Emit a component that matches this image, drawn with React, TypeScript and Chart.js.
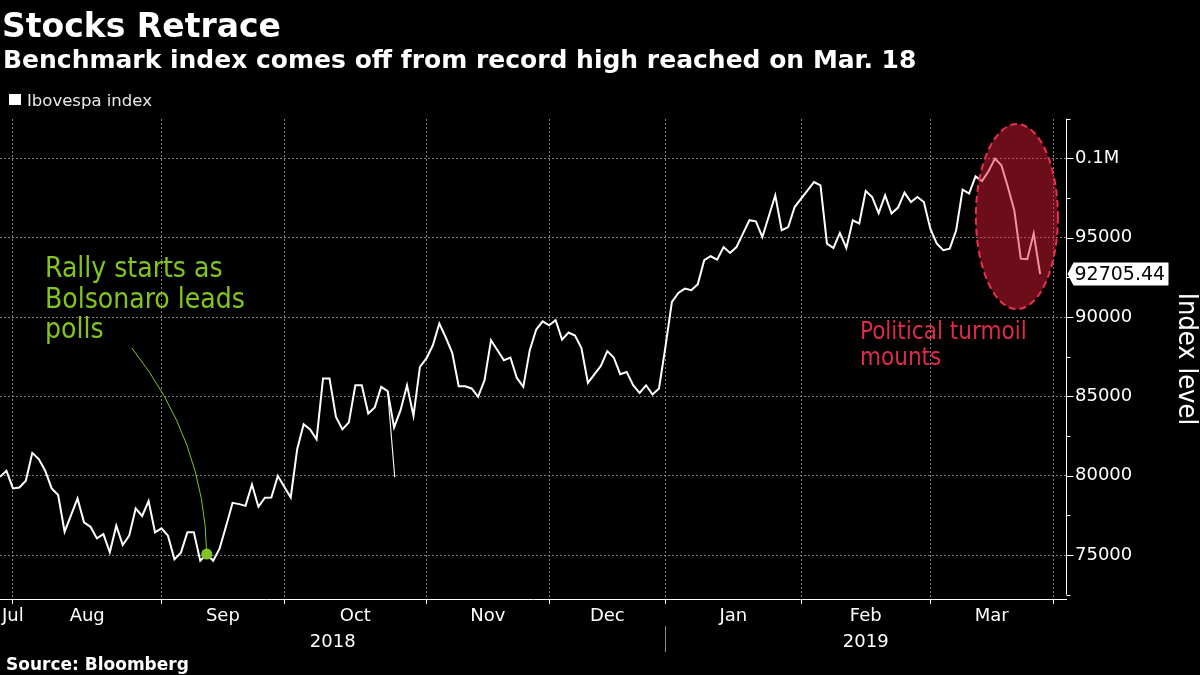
import React, { useEffect, useRef } from 'react';
import { Chart, registerables } from 'chart.js';

Chart.register(...registerables);

// ---- Data (one point per trading day, 30 Jul 2018 .. 27 Mar 2019) ----
const IBOVESPA: number[] = [
  79930, 80310, 79200, 79260, 79680, 81440, 81050, 80310, 79200, 78780,
  76470, 77520, 78570, 77060, 76780, 76050, 76320, 75170, 76850, 75630,
  76220, 77940, 77460, 78400, 76430, 76680, 76220, 74730, 75150, 76430,
  76430, 74640, 75060, 74640, 75420, 76830, 78290, 78210, 78100, 79450,
  78040, 78610, 78630, 79990, 79300, 78630, 81670, 83250, 82920, 82290,
  86130, 86130, 83710, 82920, 83360, 85700, 85700, 83920, 84300, 85600,
  85330, 83040, 84130, 85700, 83770, 86860, 87390, 88220, 89590, 88710,
  87740, 85640, 85640, 85500, 84970, 86020, 88540, 87910, 87280, 87450,
  86160, 85600, 87910, 89210, 89730, 89480, 89800, 88580, 89020, 88830,
  88050, 85850, 86380, 86920, 87850, 87450, 86400, 86540, 85700, 85220,
  85700, 85120, 85500, 88120, 90950, 91520, 91790, 91690, 92060, 93580,
  93830, 93620, 94410, 94040, 94410, 95260, 96100, 96030, 95040, 96350,
  97670, 95470, 95670, 96930, 97460, 97980, 98510, 98300, 94630, 94350,
  95300, 94350, 96100, 95890, 97940, 97560, 96550, 97670, 96520, 96900,
  97840, 97250, 97560, 97250, 95570, 94630, 94210, 94310, 95470, 98030,
  97780, 98860, 98570, 99180, 99980, 99560, 98190, 96720, 93680, 93640,
  95260, 92705.44,
];
// thin intraday spike visible in October
const SPIKE_FROM = 60;
const SPIKE_TO_X = 61.1;
const SPIKE_LOW = 79900;

const LAST_LABEL = '92705.44';
const DOT_INDEX = 32;

const MONTHS = ['Jul', 'Aug', 'Sep', 'Oct', 'Nov', 'Dec', 'Jan', 'Feb', 'Mar'];
const MONTH_BOUNDS = [0, 2, 25, 44, 66, 85, 103, 124, 144, 163];
const YEARS = ['2018', '2019'];
const YEAR_BOUNDS = [0, 103, 165];

const Y_TICKS = [72500, 75000, 77500, 80000, 82500, 85000, 87500, 90000, 92500, 95000, 97500, 100000, 102500];
const Y_TICK_LABELS = ['', '75000', '', '80000', '', '85000', '', '90000', '', '95000', '', '0.1M', ''];

const X_MIN = 0;
const X_MAX = 165;
const Y_MIN = 72230;
const Y_MAX = 102480;

// annotation anchors in data units
const HIGHLIGHT = { cx: 157.4, cy: 96330, rx: 6.35, ry: 5830 };
const CONNECTOR = { sx: 20.4, sy: 88045, qx: 31.7, qy: 82248 };

const GREEN = '#82c51e';
const RED = '#e02a4a';
const GRID = '#808080';
const FONT = '"DejaVu Sans", sans-serif';
const COND = '"DejaVu Sans Condensed", "DejaVu Sans", sans-serif';

const overlayPlugin = {
  id: 'overlay',
  afterDatasetsDraw(chart: any) {
    const { ctx } = chart;
    const xs = chart.scales.x;
    const ys = chart.scales.y;
    // highlighted ellipse
    const cx = xs.getPixelForValue(HIGHLIGHT.cx);
    const cy = ys.getPixelForValue(HIGHLIGHT.cy);
    const rx = xs.getPixelForValue(HIGHLIGHT.cx + HIGHLIGHT.rx) - cx;
    const ry = cy - ys.getPixelForValue(HIGHLIGHT.cy + HIGHLIGHT.ry);
    ctx.save();
    ctx.beginPath();
    ctx.ellipse(cx, cy, rx, ry, 0, 0, Math.PI * 2);
    ctx.fillStyle = 'rgba(225, 30, 55, 0.48)';
    ctx.fill();
    ctx.setLineDash([7, 4]);
    ctx.lineWidth = 2;
    ctx.strokeStyle = '#e8304c';
    ctx.stroke();
    ctx.restore();

    // green connector to the dot
    const ex = xs.getPixelForValue(DOT_INDEX);
    const ey = ys.getPixelForValue(IBOVESPA[DOT_INDEX]);
    ctx.save();
    ctx.beginPath();
    ctx.moveTo(xs.getPixelForValue(CONNECTOR.sx), ys.getPixelForValue(CONNECTOR.sy));
    ctx.quadraticCurveTo(xs.getPixelForValue(CONNECTOR.qx), ys.getPixelForValue(CONNECTOR.qy), ex, ey);
    ctx.strokeStyle = GREEN;
    ctx.lineWidth = 1;
    ctx.stroke();
    ctx.restore();
  },
  afterDraw(chart: any) {
    const { ctx, chartArea } = chart;
    const xs = chart.scales.x;
    const ys = chart.scales.y;
    const ax = Math.round(chartArea.right) + 0.5;
    ctx.save();
    // y axis line and ticks
    ctx.strokeStyle = '#ffffff';
    ctx.lineWidth = 1;
    ctx.beginPath();
    ctx.moveTo(ax, ys.getPixelForValue(Y_TICKS[Y_TICKS.length - 1]));
    ctx.lineTo(ax, ys.getPixelForValue(Y_TICKS[0]));
    Y_TICKS.forEach((v, i) => {
      const py = Math.round(ys.getPixelForValue(v)) + 0.5;
      ctx.moveTo(ax, py);
      ctx.lineTo(ax + (Y_TICK_LABELS[i] ? 7 : 4), py);
    });
    ctx.stroke();

    // last value box
    const last = IBOVESPA[IBOVESPA.length - 1];
    const vy = ys.getPixelForValue(last);
    ctx.beginPath();
    ctx.moveTo(ax + 1, vy);
    ctx.lineTo(ax + 7, vy - 11.5);
    ctx.lineTo(ax + 102, vy - 11.5);
    ctx.lineTo(ax + 102, vy + 11.5);
    ctx.lineTo(ax + 7, vy + 11.5);
    ctx.closePath();
    ctx.fillStyle = '#ffffff';
    ctx.fill();
    ctx.fillStyle = '#000000';
    ctx.font = '19px ' + FONT;
    ctx.textAlign = 'left';
    ctx.textBaseline = 'middle';
    ctx.fillText(LAST_LABEL, ax + 8, vy + 1);

    // month labels
    const bottom = chartArea.bottom;
    ctx.fillStyle = '#ffffff';
    ctx.font = '18px ' + FONT;
    ctx.textAlign = 'center';
    ctx.textBaseline = 'alphabetic';
    MONTHS.forEach((m, i) => {
      const a = xs.getPixelForValue(MONTH_BOUNDS[i]);
      const b = xs.getPixelForValue(MONTH_BOUNDS[i + 1]);
      const w = ctx.measureText(m).width;
      const c = Math.max((a + b) / 2, 2 + w / 2);
      ctx.fillText(m, c, bottom + 21.5);
    });
    YEARS.forEach((yr, i) => {
      const a = xs.getPixelForValue(YEAR_BOUNDS[i]);
      const b = xs.getPixelForValue(YEAR_BOUNDS[i + 1]);
      ctx.fillText(yr, (a + b) / 2, bottom + 47.5);
    });
    // year separator
    const sx = Math.round(xs.getPixelForValue(YEAR_BOUNDS[1])) + 0.5;
    ctx.strokeStyle = '#8a8a8a';
    ctx.beginPath();
    ctx.moveTo(sx, bottom + 27);
    ctx.lineTo(sx, bottom + 53);
    ctx.stroke();
    ctx.restore();
  },
};

export default function App() {
  const canvasRef = useRef<HTMLCanvasElement | null>(null);

  useEffect(() => {
    const canvas = canvasRef.current;
    if (!canvas) return;
    const mainData = IBOVESPA.map((v, i) => ({ x: i, y: v }));
    const spikeData = [
      { x: SPIKE_FROM, y: IBOVESPA[SPIKE_FROM] },
      { x: SPIKE_TO_X, y: SPIKE_LOW },
    ];
    const chart = new Chart(canvas, {
      type: 'line',
      data: {
        datasets: [
          {
            label: 'Ibovespa index',
            data: mainData,
            borderColor: '#ffffff',
            borderWidth: 2,
            tension: 0,
            pointRadius: (c: any) => (c.dataIndex === DOT_INDEX ? 5.5 : 0),
            pointBackgroundColor: GREEN,
            pointBorderWidth: 0,
            pointHoverRadius: 0,
          },
          {
            label: 'spike',
            data: spikeData,
            borderColor: '#ffffff',
            borderWidth: 1.1,
            pointRadius: 0,
            tension: 0,
          },
        ],
      } as any,
      options: {
        responsive: false,
        animation: false,
        devicePixelRatio: 1,
        parsing: false as any,
        layout: { padding: { top: 119, bottom: 71, left: 0, right: 0 } },
        plugins: {
          legend: { display: false },
          tooltip: { enabled: false },
          title: { display: false },
        },
        events: [],
        scales: {
          x: {
            type: 'linear',
            min: X_MIN,
            max: X_MAX,
            afterBuildTicks: (scale: any) => {
              scale.ticks = MONTH_BOUNDS.slice(1).map((v) => ({ value: v }));
            },
            ticks: { display: false },
            grid: {
              color: GRID,
              lineWidth: 1,
              drawTicks: true,
              tickLength: 5,
              tickColor: '#ffffff',
              tickBorderDash: [],
            },
            border: { display: true, color: '#ffffff', width: 1, dash: [2, 2] },
          },
          y: {
            type: 'linear',
            position: 'right',
            min: Y_MIN,
            max: Y_MAX,
            afterBuildTicks: (scale: any) => {
              scale.ticks = Y_TICKS.map((v) => ({ value: v }));
            },
            afterFit: (scale: any) => {
              scale.width = 134;
            },
            ticks: {
              autoSkip: false,
              padding: 9,
              color: '#ffffff',
              font: { family: FONT, size: 18 },
              callback: (_v: any, i: number) => Y_TICK_LABELS[i],
            },
            grid: {
              drawTicks: false,
              color: (c: any) => (c.tick && c.tick.value % 5000 === 0 ? GRID : 'rgba(0,0,0,0)'),
              lineWidth: 1,
            },
            border: { display: false, dash: [2, 2] },
            title: {
              display: true,
              text: 'Index level',
              color: '#ffffff',
              font: { family: COND, size: 27, lineHeight: 1.05 },
              padding: { top: 0, bottom: 0 },
            },
          },
        },
      } as any,
      plugins: [overlayPlugin],
    });
    return () => chart.destroy();
  }, []);

  const abs = (o: React.CSSProperties): React.CSSProperties => ({ position: 'absolute', margin: 0, whiteSpace: 'pre', ...o });

  return (
    <div style={{ position: 'fixed', left: 0, top: 0, width: 1200, height: 675, background: '#000', overflow: 'hidden' }}>
      <canvas ref={canvasRef} width={1200} height={675} style={{ position: 'absolute', left: 0, top: 0 }} />
      <div style={abs({ left: 2, top: 9, fontFamily: FONT, fontWeight: 'bold', fontSize: 33, lineHeight: '33px', color: '#fff' })}>Stocks Retrace</div>
      <div style={abs({ left: 3, top: 47, fontFamily: FONT, fontWeight: 'bold', fontSize: 25, lineHeight: '25px', color: '#fff' })}>Benchmark index comes off from record high reached on Mar. 18</div>
      <div style={abs({ left: 9, top: 94, width: 12, height: 11, background: '#fff' })} />
      <div style={abs({ left: 27, top: 92.5, fontFamily: FONT, fontSize: 16.5, lineHeight: '16.5px', color: '#e8e8e8' })}>Ibovespa index</div>
      <div style={abs({ left: 45, top: 253.4, fontFamily: COND, fontSize: 28, lineHeight: '30.5px', color: GREEN })}>{'Rally starts as\nBolsonaro leads\npolls'}</div>
      <div style={abs({ left: 860, top: 317.5, fontFamily: COND, fontSize: 24, lineHeight: '26.3px', color: RED })}>{'Political turmoil\nmounts'}</div>
      <div style={abs({ left: 6, top: 656, fontFamily: FONT, fontWeight: 'bold', fontSize: 17, lineHeight: '17px', color: '#fff' })}>Source: Bloomberg</div>
    </div>
  );
}
